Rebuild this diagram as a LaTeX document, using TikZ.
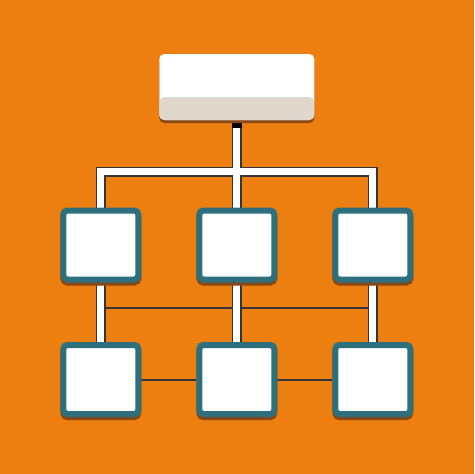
\documentclass[tikz,border=0pt]{standalone}
\usetikzlibrary{shadows}
\definecolor{bgorange}{RGB}{237,127,17}
\definecolor{boxteal}{RGB}{46,111,126}
\definecolor{pipedark}{RGB}{52,52,56}
\definecolor{boxshade}{RGB}{135,72,22}
\definecolor{rootband}{RGB}{225,216,205}
\pgfdeclarelayer{backdrop}
\pgfdeclarelayer{links}
\pgfsetlayers{backdrop,links,main}
\tikzset{
  leaf/.style={draw=boxteal, line width=0.18cm, fill=white, rounded corners=0.12cm,
    minimum width=2.25cm, minimum height=2.07cm, inner sep=0pt,
    drop shadow={shadow xshift=0cm, shadow yshift=-0.09cm, fill=boxshade, draw=boxshade, line width=0.18cm, opacity=1}},
  rootbox/.style={fill=white, rounded corners=0.15cm, minimum width=4.65cm, minimum height=1.98cm, inner sep=0pt,
    path picture={\fill[rootband] (path picture bounding box.south west) rectangle ([yshift=0.69cm]path picture bounding box.south east);},
    drop shadow={shadow xshift=0cm, shadow yshift=-0.09cm, fill=boxshade, opacity=1}},
  pipeedge/.style={draw=pipedark, line width=0.3cm, line join=miter},
  pipecore/.style={draw=white, line width=0.2cm, line join=miter},
  thinlink/.style={draw=pipedark, line width=0.06cm}
}
\begin{document}
\begin{tikzpicture}[x=0.03cm, y=-0.03cm]
\begin{pgfonlayer}{backdrop}
\fill[bgorange] (0,0) rectangle (474,474);
\end{pgfonlayer}
\node[rootbox] (root) at (236.8,87) {};
\node[leaf] (m1) at (100.8,245) {};
\node[leaf] (m2) at (236.8,245) {};
\node[leaf] (m3) at (372.8,245) {};
\node[leaf] (b1) at (100.8,379.5) {};
\node[leaf] (b2) at (236.8,379.5) {};
\node[leaf] (b3) at (372.8,379.5) {};
\coordinate (bar) at (236.8,171.5);
\coordinate (j1) at (100.8,308);
\coordinate (j3) at (372.8,308);
\begin{pgfonlayer}{links}
\draw[thinlink] (j1) -- (j3);
\draw[thinlink] (b1) -- (b2);
\draw[thinlink] (b2) -- (b3);
\foreach \s in {pipeedge,pipecore}{
  \draw[\s] (m1.north) |- (bar) -| (m3.north);
  \draw[\s] (root.south) -- (m2.north);
  \draw[\s] (m1.south) -- (b1.north);
  \draw[\s] (m2.south) -- (b2.north);
  \draw[\s] (m3.south) -- (b3.north);
}
\fill[black] ([xshift=-0.15cm]root.south) rectangle ([xshift=0.15cm,yshift=-0.24cm]root.south);
\end{pgfonlayer}
\end{tikzpicture}
\end{document}
